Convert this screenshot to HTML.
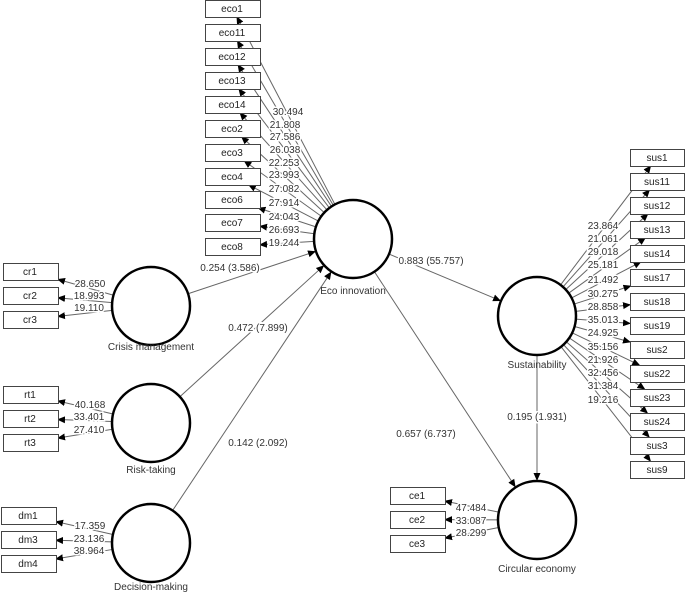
<!DOCTYPE html>
<html><head><meta charset="utf-8"><style>
html,body{margin:0;padding:0;background:#fff;}
svg{display:block;font-family:"Liberation Sans",sans-serif;}
.b{fill:#fff;stroke:#444;stroke-width:1}
.bt{font-size:10px;fill:#222;text-anchor:middle}
.l{font-size:10px;fill:#333;text-anchor:middle;paint-order:stroke;stroke:#fff;stroke-width:3px}
.c{fill:#fff;stroke:#000;stroke-width:2.5}
.cl{font-size:10px;fill:#333;text-anchor:middle}
</style></head><body>
<svg id="s" width="685" height="592" viewBox="0 0 685 592">
<defs><marker id="a" markerWidth="8" markerHeight="8" refX="7" refY="4" orient="auto" markerUnits="userSpaceOnUse"><path d="M0,0.5 L8,4 L0,7.5 z" fill="#000"/></marker></defs>
<g id="lines" stroke="#666" stroke-width="1" fill="none"></g>
<g id="circles"></g>
<g id="boxes"></g>
<g>
<text class="l" x="288" y="115">30.494</text>
<text class="l" x="285" y="128">21.808</text>
<text class="l" x="285" y="140">27.586</text>
<text class="l" x="285" y="153">26.038</text>
<text class="l" x="284" y="166">22.253</text>
<text class="l" x="284" y="178">23.993</text>
<text class="l" x="284" y="192">27.082</text>
<text class="l" x="284" y="206">27.914</text>
<text class="l" x="284" y="220">24.043</text>
<text class="l" x="284" y="233">26.693</text>
<text class="l" x="284" y="246">19.244</text>

<text class="l" x="603" y="229">23.864</text>
<text class="l" x="603" y="242">21.061</text>
<text class="l" x="603" y="255">29.018</text>
<text class="l" x="603" y="268">25.181</text>
<text class="l" x="603" y="283">21.492</text>
<text class="l" x="603" y="297">30.275</text>
<text class="l" x="603" y="310">28.858</text>
<text class="l" x="603" y="323">35.013</text>
<text class="l" x="603" y="336">24.925</text>
<text class="l" x="603" y="350">35.156</text>
<text class="l" x="603" y="363">21.926</text>
<text class="l" x="603" y="376">32.456</text>
<text class="l" x="603" y="389">31.384</text>
<text class="l" x="603" y="403">19.216</text>

<text class="l" x="90" y="287">28.650</text>
<text class="l" x="89" y="299">18.993</text>
<text class="l" x="89" y="311">19.110</text>
<text class="l" x="90" y="408">40.168</text>
<text class="l" x="89" y="420">33.401</text>
<text class="l" x="89" y="433">27.410</text>
<text class="l" x="90" y="529">17.359</text>
<text class="l" x="89" y="542">23.136</text>
<text class="l" x="89" y="554">38.964</text>

<text class="l" x="471" y="511">47.484</text>
<text class="l" x="471" y="524">33.087</text>
<text class="l" x="471" y="536">28.299</text>

<text class="l" x="230" y="271">0.254 (3.586)</text>
<text class="l" x="258" y="331">0.472 (7.899)</text>
<text class="l" x="258" y="446">0.142 (2.092)</text>
<text class="l" x="431" y="264">0.883 (55.757)</text>
<text class="l" x="426" y="437">0.657 (6.737)</text>
<text class="l" x="537" y="420">0.195 (1.931)</text>

<text class="cl" x="353" y="294">Eco innovation</text>
<text class="cl" x="151" y="350">Crisis management</text>
<text class="cl" x="151" y="473">Risk-taking</text>
<text class="cl" x="151" y="590">Decision-making</text>
<text class="cl" x="537" y="368">Sustainability</text>
<text class="cl" x="537" y="572">Circular economy</text>
</g>
<g id="btxt">
<text class="bt" x="232" y="12">eco1</text>
<text class="bt" x="232" y="36">eco11</text>
<text class="bt" x="232" y="60">eco12</text>
<text class="bt" x="232" y="84">eco13</text>
<text class="bt" x="232" y="108">eco14</text>
<text class="bt" x="232" y="132">eco2</text>
<text class="bt" x="232" y="156">eco3</text>
<text class="bt" x="232" y="180">eco4</text>
<text class="bt" x="232" y="203">eco6</text>
<text class="bt" x="232" y="226">eco7</text>
<text class="bt" x="232" y="250">eco8</text>
<text class="bt" x="657" y="161">sus1</text>
<text class="bt" x="657" y="185">sus11</text>
<text class="bt" x="657" y="209">sus12</text>
<text class="bt" x="657" y="233">sus13</text>
<text class="bt" x="657" y="257">sus14</text>
<text class="bt" x="657" y="281">sus17</text>
<text class="bt" x="657" y="305">sus18</text>
<text class="bt" x="657" y="329">sus19</text>
<text class="bt" x="657" y="353">sus2</text>
<text class="bt" x="657" y="377">sus22</text>
<text class="bt" x="657" y="401">sus23</text>
<text class="bt" x="657" y="425">sus24</text>
<text class="bt" x="657" y="449">sus3</text>
<text class="bt" x="657" y="473">sus9</text>
<text class="bt" x="30" y="275">cr1</text>
<text class="bt" x="30" y="299">cr2</text>
<text class="bt" x="30" y="323">cr3</text>
<text class="bt" x="30" y="398">rt1</text>
<text class="bt" x="30" y="422">rt2</text>
<text class="bt" x="30" y="446">rt3</text>
<text class="bt" x="28" y="519">dm1</text>
<text class="bt" x="28" y="543">dm3</text>
<text class="bt" x="28" y="567">dm4</text>
<text class="bt" x="417" y="499">ce1</text>
<text class="bt" x="417" y="523">ce2</text>
<text class="bt" x="417" y="547">ce3</text>
</g>
</svg>
<script>
(function(){
var NS="http://www.w3.org/2000/svg";
var C={eco:[353,239],cr:[151,306],rt:[151,423],dm:[151,543],sus:[537,316],ce:[537,520]},R=39;
var B=[];
var ey=[0,24,48,72,96,120,144,168,191,214,238];ey.forEach(function(y){B.push(['eco',205,y,55,17]);});
for(var i=0;i<14;i++)B.push(['sus',630,149+24*i,54,17]);
[263,287,311].forEach(function(y){B.push(['cr',3,y,55,17]);});
[386,410,434].forEach(function(y){B.push(['rt',3,y,55,17]);});
[507,531,555].forEach(function(y){B.push(['dm',1,y,55,17]);});
[487,511,535].forEach(function(y){B.push(['ce',390,y,55,17]);});
var L=document.getElementById('lines'),Cg=document.getElementById('circles'),Bg=document.getElementById('boxes');
function line(x1,y1,x2,y2){var l=document.createElementNS(NS,'line');l.setAttribute('x1',x1);l.setAttribute('y1',y1);l.setAttribute('x2',x2);l.setAttribute('y2',y2);l.setAttribute('marker-end','url(#a)');L.appendChild(l);}
B.forEach(function(b){var c=C[b[0]],bx=b[1]+b[3]/2,by=b[2]+b[4]/2,dx=bx-c[0],dy=by-c[1],d=Math.hypot(dx,dy);
var tx=Math.abs(dx)>0?(b[3]/2)/Math.abs(dx):1e9,ty=Math.abs(dy)>0?(b[4]/2)/Math.abs(dy):1e9,t=1-Math.min(tx,ty);
line(c[0]+dx/d*R,c[1]+dy/d*R,c[0]+dx*t,c[1]+dy*t);
var r=document.createElementNS(NS,'rect');r.setAttribute('x',b[1]+.5);r.setAttribute('y',b[2]+.5);r.setAttribute('width',b[3]);r.setAttribute('height',b[4]);r.setAttribute('class','b');Bg.appendChild(r);});
[['cr','eco'],['rt','eco'],['dm','eco'],['eco','sus'],['eco','ce'],['sus','ce']].forEach(function(p){var a=C[p[0]],b=C[p[1]],dx=b[0]-a[0],dy=b[1]-a[1],d=Math.hypot(dx,dy);
line(a[0]+dx/d*R,a[1]+dy/d*R,b[0]-dx/d*(R+1),b[1]-dy/d*(R+1));});
for(var k in C){var c=document.createElementNS(NS,'circle');c.setAttribute('cx',C[k][0]);c.setAttribute('cy',C[k][1]);c.setAttribute('r',R);c.setAttribute('class','c');Cg.appendChild(c);}
})();
</script>
</body></html>
